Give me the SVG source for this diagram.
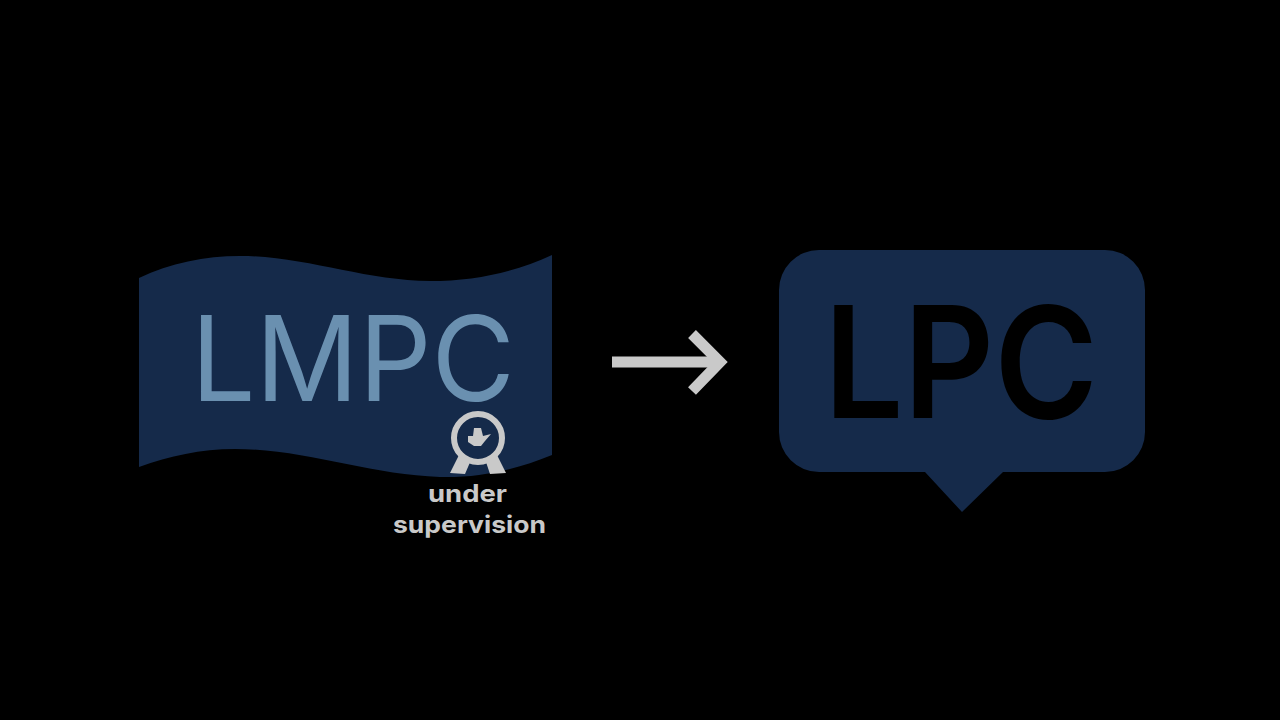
<svg xmlns="http://www.w3.org/2000/svg" width="1280" height="720" viewBox="0 0 1280 720">
<style>
.shape{fill:#152a4a}
.grey{fill:#c9c9c9}
.line{fill:none;stroke:#c9c9c9}
.big{font-family:"Inter","Open Sans",sans-serif}
.small{font-family:"Inter","Liberation Sans",sans-serif;font-size:24px;font-weight:700;fill:#c9c9c9}
</style>
<rect width="1280" height="720" fill="#000"/>
<g id="lmpc">
<path class="shape" d="M139 278C170 263 205 256 240 256C305 256 365 281 430 281C475 281 515 272 552 255V455C515 470 480 478 440 477C370 475 305 449 235 449C200 449 170 456 139 467Z"/>
<text class="big" x="191" y="401" font-size="118" font-weight="400" fill="#6a90b0" textLength="324" lengthAdjust="spacingAndGlyphs">LMPC</text>
</g>
<g id="badge">
<circle class="line" cx="478" cy="438" r="24" stroke-width="6"/>
<path class="grey" d="M460 453L471 460L465 474L450 473ZM496 453L485 459L490 474L506 473Z"/>
<path class="grey" d="M474 428H481L483 436L491 434L485 441L481 446H474L468 442V436L473 436Z"/>
<text class="small" x="428" y="502" textLength="79" lengthAdjust="spacingAndGlyphs">under</text>
<text class="small" x="393" y="533" textLength="153" lengthAdjust="spacingAndGlyphs">supervision</text>
</g>
<g id="connectors">
<path class="line" d="M612 362H720" stroke-width="11"/>
<path class="line" d="M692 334L720 362L692 391" stroke-width="11"/>
</g>
<g id="lpc">
<path class="shape" d="M819 250H1105A40 40 0 0 1 1145 290V432A40 40 0 0 1 1105 472H1003L962 512L925 472H819A40 40 0 0 1 779 432V290A40 40 0 0 1 819 250Z"/>
<text class="big" x="824" y="418" font-size="155" font-weight="600" fill="#000" textLength="274" lengthAdjust="spacingAndGlyphs">LPC</text>
</g>
</svg>
